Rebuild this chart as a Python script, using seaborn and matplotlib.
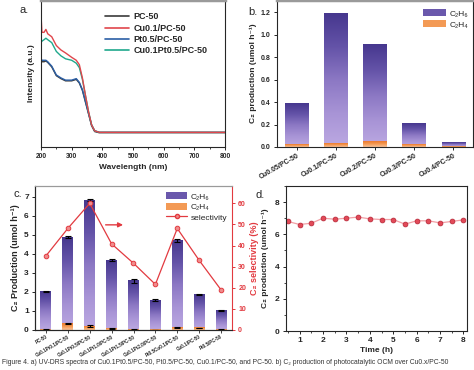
import numpy as np
import pandas as pd
import seaborn as sns
import matplotlib
matplotlib.use('Agg')
import matplotlib.pyplot as plt
from matplotlib.patches import Patch
from matplotlib.lines import Line2D
from matplotlib.colors import LinearSegmentedColormap
from matplotlib.ticker import MultipleLocator

# a. UV-DRS spectra
wavelength = [200, 203, 210, 216, 222, 235, 250, 265, 280, 300, 315, 325, 335, 345, 355, 365, 375, 390, 450, 600, 800]
uv_pc50 = [0.59, 0.58, 0.58, 0.585, 0.575, 0.545, 0.485, 0.465, 0.45, 0.45, 0.46, 0.435, 0.385, 0.305, 0.225, 0.145, 0.105, 0.097, 0.097, 0.097, 0.097]
uv_cu = [0.90, 0.78, 0.78, 0.80, 0.77, 0.75, 0.69, 0.66, 0.64, 0.61, 0.59, 0.56, 0.47, 0.35, 0.24, 0.15, 0.11, 0.10, 0.10, 0.10, 0.10]
uv_pt = [0.60, 0.59, 0.59, 0.59, 0.58, 0.55, 0.49, 0.47, 0.455, 0.455, 0.465, 0.44, 0.39, 0.31, 0.23, 0.15, 0.11, 0.10, 0.10, 0.10, 0.10]
uv_cupt = [0.71, 0.72, 0.73, 0.74, 0.73, 0.71, 0.65, 0.62, 0.60, 0.59, 0.57, 0.54, 0.46, 0.35, 0.24, 0.15, 0.11, 0.10, 0.10, 0.10, 0.10]
uv_names = ['PC-50', 'Cu0.1/PC-50', 'Pt0.5/PC-50', 'Cu0.1Pt0.5/PC-50']
uv_colors = ['#3b3b3b', '#e0464c', '#2b5fa6', '#1fa88c']

# b. Cu loading series
cu_samples = ['Cu0.05/PC-50', 'Cu0.1/PC-50', 'Cu0.2/PC-50', 'Cu0.3/PC-50', 'Cu0.4/PC-50']
cu_c2h6 = [0.39, 1.19, 0.91, 0.21, 0.04]
cu_c2h4 = [0.02, 0.035, 0.045, 0.02, 0.004]

# c. CuPt catalysts
cat_samples = ['PC-50', 'Cu0.1Pt0.1/PC-50', 'Cu0.1Pt0.5/PC-50', 'Cu0.1Pt1.0/PC-50', 'Cu0.1Pt1.5/PC-50',
               'Cu0.1Pt2.0/PC-50', 'Pt0.5Cu0.1/PC-50', 'Cu0.1/PC-50', 'Pt0.5/PC-50']
cat_c2h6 = [2.0, 4.88, 6.82, 3.67, 2.58, 1.57, 4.68, 1.87, 1.03]
cat_c2h6_err = [0.03, 0.04, 0.05, 0.05, 0.12, 0.04, 0.08, 0.03, 0.03]
cat_c2h4 = [0.02, 0.35, 0.21, 0.09, 0.02, 0.01, 0.14, 0.11, 0.02]
cat_c2h4_err = [0.01, 0.04, 0.03, 0.02, 0.01, 0.01, 0.02, 0.02, 0.01]
selectivity = [35.1, 48.1, 60.0, 40.8, 31.6, 21.6, 48.1, 33.0, 19.0]

# d. stability
time_h = [0.5, 1, 1.5, 2, 2.5, 3, 3.5, 4, 4.5, 5, 5.5, 6, 6.5, 7, 7.5, 8]
stability = [6.80, 6.61, 6.69, 7.0, 6.94, 7.0, 7.07, 6.96, 6.92, 6.92, 6.63, 6.84, 6.84, 6.71, 6.80, 6.90]

sns.set_style('ticks')
plt.rcParams['font.family'] = ['Liberation Sans', 'DejaVu Sans']
plt.rcParams['axes.linewidth'] = 0.8

purple = LinearSegmentedColormap.from_list('purp', ['#bca9e2', '#a894d6', '#8c78c4', '#6453a8', '#46378e'])
orange = LinearSegmentedColormap.from_list('orng', ['#f9c49c', '#f49a55', '#ec7a2c'])
red = '#e23a40'


def gradient_bars(ax, patches, cmap, z):
    # fill each bar with a vertical gradient (light bottom -> dark top)
    grad = np.linspace(0, 1, 256).reshape(-1, 1)
    xl, yl = ax.get_xlim(), ax.get_ylim()
    for p in patches:
        x0, y0, w, h = p.get_x(), p.get_y(), p.get_width(), p.get_height()
        if h <= 0:
            continue
        ax.imshow(grad, cmap=cmap, origin='lower', extent=[x0, x0 + w, y0, y0 + h],
                  aspect='auto', zorder=z, interpolation='bilinear')
        p.set_facecolor('none')
        p.set_edgecolor('none')
    ax.set_xlim(xl)
    ax.set_ylim(yl)


def bold_ticks(ax, size):
    for lab in ax.get_xticklabels() + ax.get_yticklabels():
        lab.set_fontweight('bold')
        lab.set_fontsize(size)


fig = plt.figure(figsize=(4.74, 3.70), dpi=100)
ax_a = fig.add_axes([41 / 474, 1 - 147 / 370, 184 / 474, 147 / 370])
ax_b = fig.add_axes([277 / 474, 1 - 147 / 370, 196 / 474, 147 / 370])
ax_c = fig.add_axes([35 / 474, 1 - 330 / 370, 197 / 474, 144 / 370])
ax_d = fig.add_axes([286 / 474, 1 - 331 / 370, 181 / 474, 145 / 370])

# ---- a ----
uv = pd.DataFrame({
    'wl': wavelength * 4,
    'int': uv_pc50 + uv_cu + uv_pt + uv_cupt,
    'sample': sum([[n] * len(wavelength) for n in uv_names], []),
})
sns.lineplot(data=uv, x='wl', y='int', hue='sample', hue_order=[uv_names[0], uv_names[2], uv_names[3], uv_names[1]],
             palette=dict(zip(uv_names, uv_colors)), linewidth=1.0, sort=False, legend=False, ax=ax_a)
ax_a.set_xlim(200, 800)
ax_a.set_ylim(0, 1)
ax_a.set_yticks([])
ax_a.xaxis.set_major_locator(MultipleLocator(100))
ax_a.xaxis.set_minor_locator(MultipleLocator(50))
ax_a.tick_params(axis='x', which='major', length=2.5, width=0.7, pad=2)
ax_a.tick_params(axis='x', which='minor', length=1.5, width=0.6)
ax_a.set_xlabel('Wavelength (nm)', fontsize=6, fontweight='bold', labelpad=3)
ax_a.set_ylabel('Intensity (a.u.)', fontsize=6, fontweight='bold', labelpad=4)
ax_a.spines['top'].set_color('#9a9a9a')
ax_a.spines['top'].set_linewidth(2.5)
bold_ticks(ax_a, 4.8)
h_a = [Line2D([0], [0], color=c, lw=1.2) for c in uv_colors]
ax_a.legend(h_a, uv_names, loc='upper left', bbox_to_anchor=(0.33, 0.94), frameon=False,
            prop={'weight': 'bold', 'size': 6.5}, handlelength=2.6, handletextpad=0.5,
            labelspacing=0.25, borderaxespad=0)
fig.text(20 / 474, 1 - 10 / 370, 'a.', fontsize=8, va='center', ha='left')

# ---- b ----
sns.barplot(x=cu_samples, y=cu_c2h6, color='#7a67b8', width=0.6, saturation=1, ax=ax_b)
ax_b.set_xlim(-0.3, 4.54)
ax_b.set_ylim(0, 1.307)
gradient_bars(ax_b, list(ax_b.patches), purple, 1.5)
n_b = len(ax_b.patches)
sns.barplot(x=cu_samples, y=cu_c2h4, color='#f39a55', width=0.6, saturation=1, ax=ax_b)
gradient_bars(ax_b, list(ax_b.patches)[n_b:], orange, 2.5)
ax_b.set_yticks(np.arange(0, 1.21, 0.2))
ax_b.set_yticklabels([f'{v:.1f}' for v in np.arange(0, 1.21, 0.2)])
ax_b.tick_params(axis='y', length=2.5, width=0.7, pad=2)
ax_b.tick_params(axis='x', length=2.5, width=0.7, pad=1)
ax_b.set_xticks(range(len(cu_samples)))
ax_b.set_xticklabels(cu_samples, rotation=30, ha='right', rotation_mode='anchor')
bold_ticks(ax_b, 5)
ax_b.set_ylabel('C\u2082 production (umol h\u207b\u00b9)', fontsize=6, fontweight='bold', labelpad=3)
ax_b.spines['top'].set_color('#9a9a9a')
ax_b.spines['top'].set_linewidth(2.5)
h_b = [Patch(facecolor='#6a58ac', edgecolor='none'), Patch(facecolor='#f39a55', edgecolor='none')]
ax_b.legend(h_b, ['C\u2082H\u2086', 'C\u2082H\u2084'], loc='upper right', bbox_to_anchor=(1.0, 0.97),
            frameon=False, fontsize=6, handlelength=2.8, handleheight=0.9, handletextpad=0.4,
            labelspacing=0.3, borderaxespad=0.2)
fig.text(248 / 474, 1 - 12 / 370, 'b.', fontsize=8, va='center', ha='left')

# ---- c ----
sns.barplot(x=cat_samples, y=cat_c2h6, color='#7a67b8', width=0.5, saturation=1, ax=ax_c)
ax_c.set_xlim(-1.07, 9.0)
ax_c.set_ylim(0, 7.56)
gradient_bars(ax_c, list(ax_c.patches), purple, 1.5)
n_c = len(ax_c.patches)
sns.barplot(x=cat_samples, y=cat_c2h4, color='#f39a55', width=0.5, saturation=1, ax=ax_c)
gradient_bars(ax_c, list(ax_c.patches)[n_c:], orange, 2.5)
pos = np.arange(len(cat_samples))
ax_c.errorbar(pos, cat_c2h6, yerr=cat_c2h6_err, fmt='none', ecolor='black', elinewidth=0.8,
              capsize=2.2, capthick=0.8, zorder=4)
ax_c.errorbar(pos, cat_c2h4, yerr=cat_c2h4_err, fmt='none', ecolor='black', elinewidth=0.8,
              capsize=2.2, capthick=0.8, zorder=4)
ax_c.set_yticks(range(0, 8))
ax_c.set_xticks(pos)
ax_c.set_xticklabels(cat_samples, rotation=30, ha='right', rotation_mode='anchor')
ax_c.tick_params(axis='y', length=2.5, width=0.7, pad=2)
ax_c.tick_params(axis='x', length=2, width=0.6, pad=1)
bold_ticks(ax_c, 6)
for lab in ax_c.get_xticklabels():
    lab.set_fontsize(3.3)
ax_c.set_ylabel('C\u2082 Production (umol h\u207b\u00b9)', fontsize=6.5, fontweight='bold', labelpad=3)
ax_c.spines['top'].set_color('#9a9a9a')
ax_c.spines['right'].set_visible(False)

ax_c2 = ax_c.twinx()
sns.lineplot(x=pos, y=selectivity, sort=False, color=red, linewidth=0.9, marker='o', markersize=3.3,
             markerfacecolor='#f08c8c', markeredgecolor=red, markeredgewidth=0.7, ax=ax_c2)
ax_c2.set_ylim(0, 68.2)
ax_c2.set_yticks(range(0, 61, 10))
ax_c2.set_ylabel('C\u2082 selectivity (%)', color=red, fontsize=6.5, fontweight='bold', labelpad=3)
ax_c2.tick_params(axis='y', colors=red, length=2.5, width=0.7, pad=2)
for lab in ax_c2.get_yticklabels():
    lab.set_fontweight('bold')
    lab.set_fontsize(5)
ax_c2.spines['right'].set_color(red)
ax_c2.spines['top'].set_color('#9a9a9a')
ax_c2.annotate('', xy=(3.65, 49.8), xytext=(2.6, 49.8),
               arrowprops=dict(arrowstyle='-|>', color=red, lw=1.0, mutation_scale=7))
h_c = [Patch(facecolor='#6a58ac', edgecolor='none'), Patch(facecolor='#f39a55', edgecolor='none'),
       Line2D([0], [0], color=red, lw=0.9, marker='o', markersize=3, markerfacecolor='#f08c8c',
              markeredgecolor=red)]
ax_c2.legend(h_c, ['C\u2082H\u2086', 'C\u2082H\u2084', 'selectivity'], loc='upper right',
             bbox_to_anchor=(1.0, 0.99), frameon=False, fontsize=6, handlelength=2.5,
             handleheight=0.9, handletextpad=0.4, labelspacing=0.25, borderaxespad=0.2)
fig.text(14 / 474, 1 - 194 / 370, 'c.', fontsize=8, va='center', ha='left')

# ---- d ----
sns.lineplot(x=time_h, y=stability, color='#f2a0a6', linewidth=0.9, marker='o', markersize=3.5,
             markerfacecolor='#e24a58', markeredgecolor='#b52234', markeredgewidth=0.5, ax=ax_d)
ax_d.set_xlim(0.42, 8.15)
ax_d.set_ylim(0, 9)
ax_d.set_xticks(range(1, 9))
ax_d.set_yticks(range(0, 9, 2))
ax_d.xaxis.set_minor_locator(MultipleLocator(0.5))
ax_d.yaxis.set_minor_locator(MultipleLocator(1))
ax_d.tick_params(which='major', length=2.5, width=0.7, pad=2)
ax_d.tick_params(which='minor', length=1.5, width=0.6)
bold_ticks(ax_d, 6)
ax_d.set_xlabel('Time (h)', fontsize=6, fontweight='bold', labelpad=2)
ax_d.set_ylabel('C\u2082 production (umol h\u207b\u00b9)', fontsize=6, fontweight='bold', labelpad=4)
fig.text(255 / 474, 1 - 195 / 370, 'd.', fontsize=8, va='center', ha='left')

fig.text(2 / 474, 1 - 362 / 370,
         'Figure 4. a) UV-DRS spectra of Cu0.1Pt0.5/PC-50, Pt0.5/PC-50, Cu0.1/PC-50, and PC-50. '
         'b) C\u2082 production of photocatalytic OCM over Cu0.x/PC-50',
         fontsize=4.9, color='#333333', va='center', ha='left')

fig.savefig('out.png', dpi=100)
